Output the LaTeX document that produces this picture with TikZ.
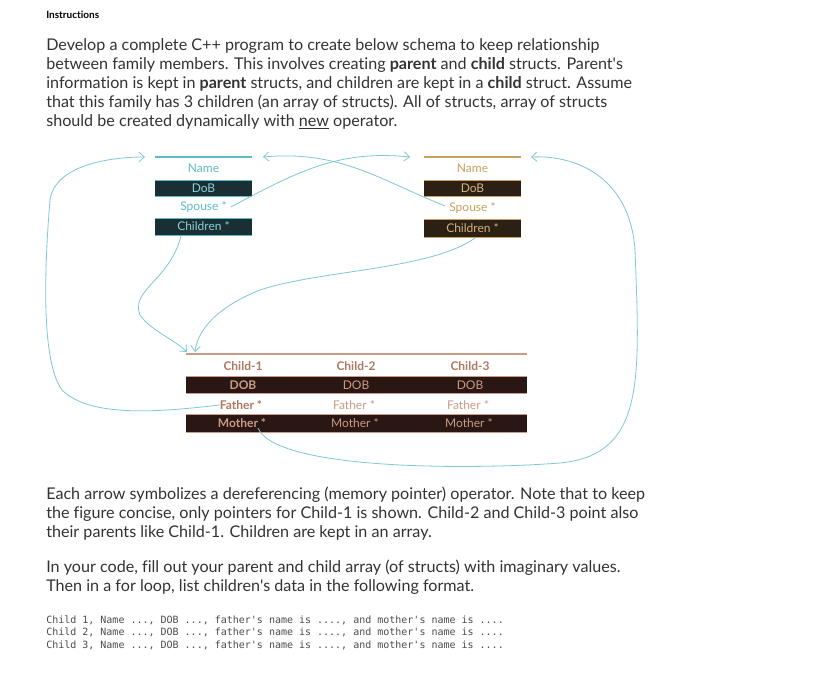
\documentclass[tikz,border=0pt]{standalone}
\usepackage{fontspec}
\setmainfont{Lato}[Ligatures=NoCommon]
\setmonofont{DejaVu Sans Mono}
\begin{document}
\begin{tikzpicture}[x=0.75pt,y=-0.75pt,
  txt/.style={anchor=west,inner sep=0pt,font=\fontsize{12.1pt}{14pt}\selectfont,text=black!80},
  mono/.style={anchor=west,inner sep=0pt,font=\ttfamily\fontsize{7.5pt}{8pt}\selectfont,text=black!70},
  lab/.style={inner sep=0pt,font=\fontsize{9pt}{10pt}\selectfont}]
\usetikzlibrary{arrows.meta}
\definecolor{tealt}{HTML}{5BBCC8}
\definecolor{tealbox}{HTML}{1A2F33}
\definecolor{tant}{HTML}{C8A060}
\definecolor{tanbox}{HTML}{2B2013}
\definecolor{chd}{HTML}{B07860}
\definecolor{chl}{HTML}{C89C88}
\definecolor{chbox}{HTML}{2A1612}
\definecolor{arrc}{HTML}{80C8D0}
\tikzset{arr/.style={draw=arrc,line width=0.6pt,-{Straight Barb[length=4pt,width=7pt]}},bl/.style={font=\bfseries\fontsize{9pt}{10pt}\selectfont}}
\useasboundingbox[fill=white] (0,0) rectangle (819,674);
\node[anchor=west,inner sep=0pt,font=\bfseries\fontsize{7.5pt}{9pt}\selectfont] (ins) at (46,15) {Instructions};
\node[txt] (p1) at (46,46) {Develop a complete C++ program to create below schema to keep relationship};
\node[txt] (p2) at (46,65) {between family members. This involves creating \textbf{parent} and \textbf{child} structs. Parent\textquotesingle s};
\node[txt] (p3) at (46,84) {information is kept in \textbf{parent} structs, and children are kept in a \textbf{child} struct. Assume};
\node[txt] (p4) at (46,103) {that this family has 3 children (an array of structs). All of structs, array of structs};
\node[txt] (p5) at (46,122) {should be created dynamically with \underline{new} operator.};
% left parent
\draw[tealt,line width=0.8pt] (155,157) -- (252,157);
\node[lab,text=tealt] (lname) at (203.5,168) {Name};
\fill[tealbox] (155,180) rectangle (252,196); \draw[tealt,line width=0.5pt] (155,180)--(252,180) (155,196)--(252,196);
\node[lab,text=tealt!70!white] (ldob) at (203.5,188) {DoB};
\node[lab,text=tealt] (lsp) at (203.5,207) {Spouse *};
\fill[tealbox] (155,218) rectangle (252,235); \draw[tealt,line width=0.5pt] (155,218)--(252,218) (155,235)--(252,235);
\node[lab,text=tealt!70!white] (lch) at (203.5,226.5) {Children *};
% right parent
\draw[tant,line width=0.8pt] (424,157) -- (521,157);
\node[lab,text=tant] (rname) at (472.5,168) {Name};
\fill[tanbox] (424,180) rectangle (521,196); \draw[tant,line width=0.5pt] (424,180)--(521,180) (424,196)--(521,196);
\node[lab,text=tant!80!white] (rdob) at (472.5,188) {DoB};
\node[lab,text=tant] (rsp) at (472.5,208) {Spouse *};
\fill[tanbox] (424,219) rectangle (521,237); \draw[tant,line width=0.5pt] (424,219)--(521,219) (424,237)--(521,237);
\node[lab,text=tant!80!white] (rch) at (472.5,228) {Children *};
% children
\draw[chl,line width=0.8pt] (186,354) -- (527,354);
\fill[chbox] (186,376) rectangle (527,393); \draw[chl,line width=0.5pt] (186,376)--(527,376) (186,393)--(527,393);
\fill[chbox] (186,414) rectangle (527,432); \draw[chl,line width=0.5pt] (186,414)--(527,414) (186,432)--(527,432);
\node[lab,bl,text=chd] (c1) at (243,366) {Child-1};
\node[lab,bl,text=chd] (c2) at (356,366) {Child-2};
\node[lab,bl,text=chd] (c3) at (470,366) {Child-3};
\node[lab,bl,text=chl] (d1) at (243,385) {DOB};
\node[lab,text=chl] (d2) at (356,385) {DOB};
\node[lab,text=chl] (d3) at (470,385) {DOB};
\node[lab,bl,text=chd] (f1) at (241,405) {Father *};
\node[lab,text=chl] (f2) at (354,405) {Father *};
\node[lab,text=chl] (f3) at (468,405) {Father *};
\node[lab,bl,text=chl] (m1) at (242,423) {Mother *};
\node[lab,text=chl] (m2) at (355,423) {Mother *};
\node[lab,text=chl] (m3) at (469,423) {Mother *};
% arrows
\coordinate (a1) at (410,157);
\coordinate (a2) at (263,157);
\coordinate (a3) at (187,352);
\coordinate (a4) at (195,352);
\coordinate (a5) at (145,157);
\coordinate (a6) at (531,157);
\draw[arr] (lsp.east)++(4,0) .. controls (300,170) and (340,150) .. (a1);
\draw[arr] (rsp.west)++(-4,-2) .. controls (380,180) and (340,150) .. (a2);
\draw[arr] (181,236) .. controls (170,280) and (130,290) .. (140,315) .. controls (150,330) and (175,340) .. (a3);
\draw[arr] (475,238) .. controls (430,270) and (320,270) .. (260,290) .. controls (210,310) and (197,335) .. (a4);
\draw[arr] (f1.west) .. controls (160,412) and (90,418) .. (62,390) .. controls (40,360) and (45,260) .. (50,200) .. controls (55,165) and (110,157) .. (a5);
\draw[arr] (258,428) .. controls (275,470) and (470,470) .. (560,463) .. controls (645,455) and (640,380) .. (635,250) .. controls (630,180) and (580,155) .. (a6);
% bottom text
\node[txt] (q1) at (46,495) {Each arrow symbolizes a dereferencing (memory pointer) operator. Note that to keep};
\node[txt] (q2) at (46,514) {the figure concise, only  pointers for Child-1 is shown. Child-2 and Child-3 point also};
\node[txt] (q3) at (46,533) {their parents like Child-1.  Children are kept in an array.};
\node[txt] (q4) at (46,568) {In your code, fill out your parent and child array (of structs) with imaginary values.};
\node[txt] (q5) at (46,587) {Then in a for loop, list children\textquotesingle s data in the following format.};
\node[mono] (m1l) at (46,620) {Child 1, Name ..., DOB ..., father's name is ...., and mother's name is ....};
\node[mono] (m2l) at (46,632) {Child 2, Name ..., DOB ..., father's name is ...., and mother's name is ....};
\node[mono] (m3l) at (46,645) {Child 3, Name ..., DOB ..., father's name is ...., and mother's name is ....};
\end{tikzpicture}
\end{document}
